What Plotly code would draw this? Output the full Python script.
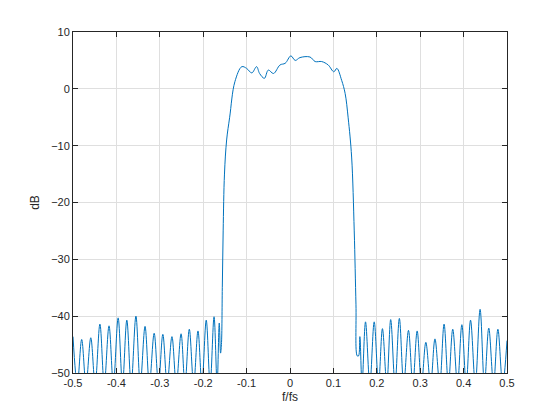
import plotly.graph_objects as go

# spectrum (f/fs, dB); stopband nulls dip just below the axis floor
f_left = [-0.5, -0.490, -0.480, -0.470, -0.459, -0.449, -0.438, -0.428, -0.417, -0.407,
          -0.396, -0.386, -0.376, -0.366, -0.355, -0.345, -0.334, -0.324, -0.313, -0.303,
          -0.293, -0.283, -0.272, -0.262, -0.251, -0.242, -0.232, -0.222, -0.212, -0.203,
          -0.193, -0.184, -0.175, -0.168, -0.163, -0.160]
db_left = [-43.6, -52, -44.1, -52, -43.8, -52, -41.4, -52, -41.7, -52,
           -40.3, -52, -40.7, -52, -40.0, -52, -41.8, -52, -43.0, -52,
           -43.2, -52, -43.6, -52, -43.1, -52, -42.3, -52, -42.6, -52,
           -40.7, -52, -40.1, -52, -41.2, -46.5]

f_pass = [-0.158, -0.156, -0.154, -0.151, -0.146, -0.139, -0.127, -0.111, -0.100, -0.088, -0.077,
          -0.070, -0.059, -0.050, -0.038, -0.023, -0.011, 0.002, 0.012, 0.023, 0.046,
          0.058, 0.073, 0.088, 0.101, 0.108, 0.119, 0.127, 0.134, 0.142, 0.148, 0.152, 0.155]
db_pass = [-45, -35, -25, -15, -9, -5, 1.25, 3.9, 3.6, 2.8, 3.9,
           2.7, 1.85, 3.3, 2.7, 4.2, 4.5, 5.8, 5.0, 5.5, 5.6,
           4.8, 4.8, 4.2, 3.0, 3.6, 1.5, -0.8, -5.1, -12, -25, -38, -47]

f_right = [0.158, 0.161, 0.166, 0.174, 0.184, 0.194, 0.204, 0.213, 0.223, 0.232,
           0.242, 0.252, 0.262, 0.273, 0.283, 0.293, 0.303, 0.313, 0.324, 0.334,
           0.345, 0.355, 0.365, 0.375, 0.386, 0.396, 0.406, 0.416, 0.427, 0.438,
           0.448, 0.458, 0.469, 0.479, 0.490, 0.5]
db_right = [-47, -43.6, -52, -41.0, -52, -41.0, -52, -42.2, -52, -40.6,
            -52, -40.4, -52, -42.5, -52, -42.6, -52, -44.6, -52, -44.0,
            -52, -41.4, -52, -42.3, -52, -41.5, -52, -40.7, -52, -38.8,
            -52, -42.1, -52, -42.3, -52, -44.3]

x_ticks = [-0.5, -0.4, -0.3, -0.2, -0.1, 0, 0.1, 0.2, 0.3, 0.4, 0.5]
y_ticks = [-50, -40, -30, -20, -10, 0, 10]

fig = go.Figure()
fig.add_trace(go.Scatter(x=f_left + f_pass + f_right, y=db_left + db_pass + db_right,
                         mode="lines", line=dict(color="#0072BD", width=1, shape="spline", smoothing=1)))

ax = dict(showline=True, mirror="ticks", linecolor="#262626", linewidth=1,
          ticks="inside", ticklen=5, tickcolor="#262626",
          showgrid=True, gridcolor="#dfdfdf", gridwidth=1, zeroline=False,
          tickfont=dict(size=11, color="#262626"))
fig.update_xaxes(range=[-0.5, 0.5], tickvals=x_ticks, ticktext=[str(t) for t in x_ticks],
                 title=dict(text="f/fs", font=dict(size=12, color="#262626"), standoff=4), **ax)
fig.update_yaxes(range=[-50, 10], tickvals=y_ticks,
                 title=dict(text="dB", font=dict(size=12, color="#262626"), standoff=8), **ax)
fig.update_layout(width=560, height=420, showlegend=False,
                  margin=dict(l=65, r=61, t=24, b=55),
                  plot_bgcolor="white", paper_bgcolor="white",
                  font=dict(family="Liberation Sans, Arial, sans-serif"))
fig.write_html("out.html")
